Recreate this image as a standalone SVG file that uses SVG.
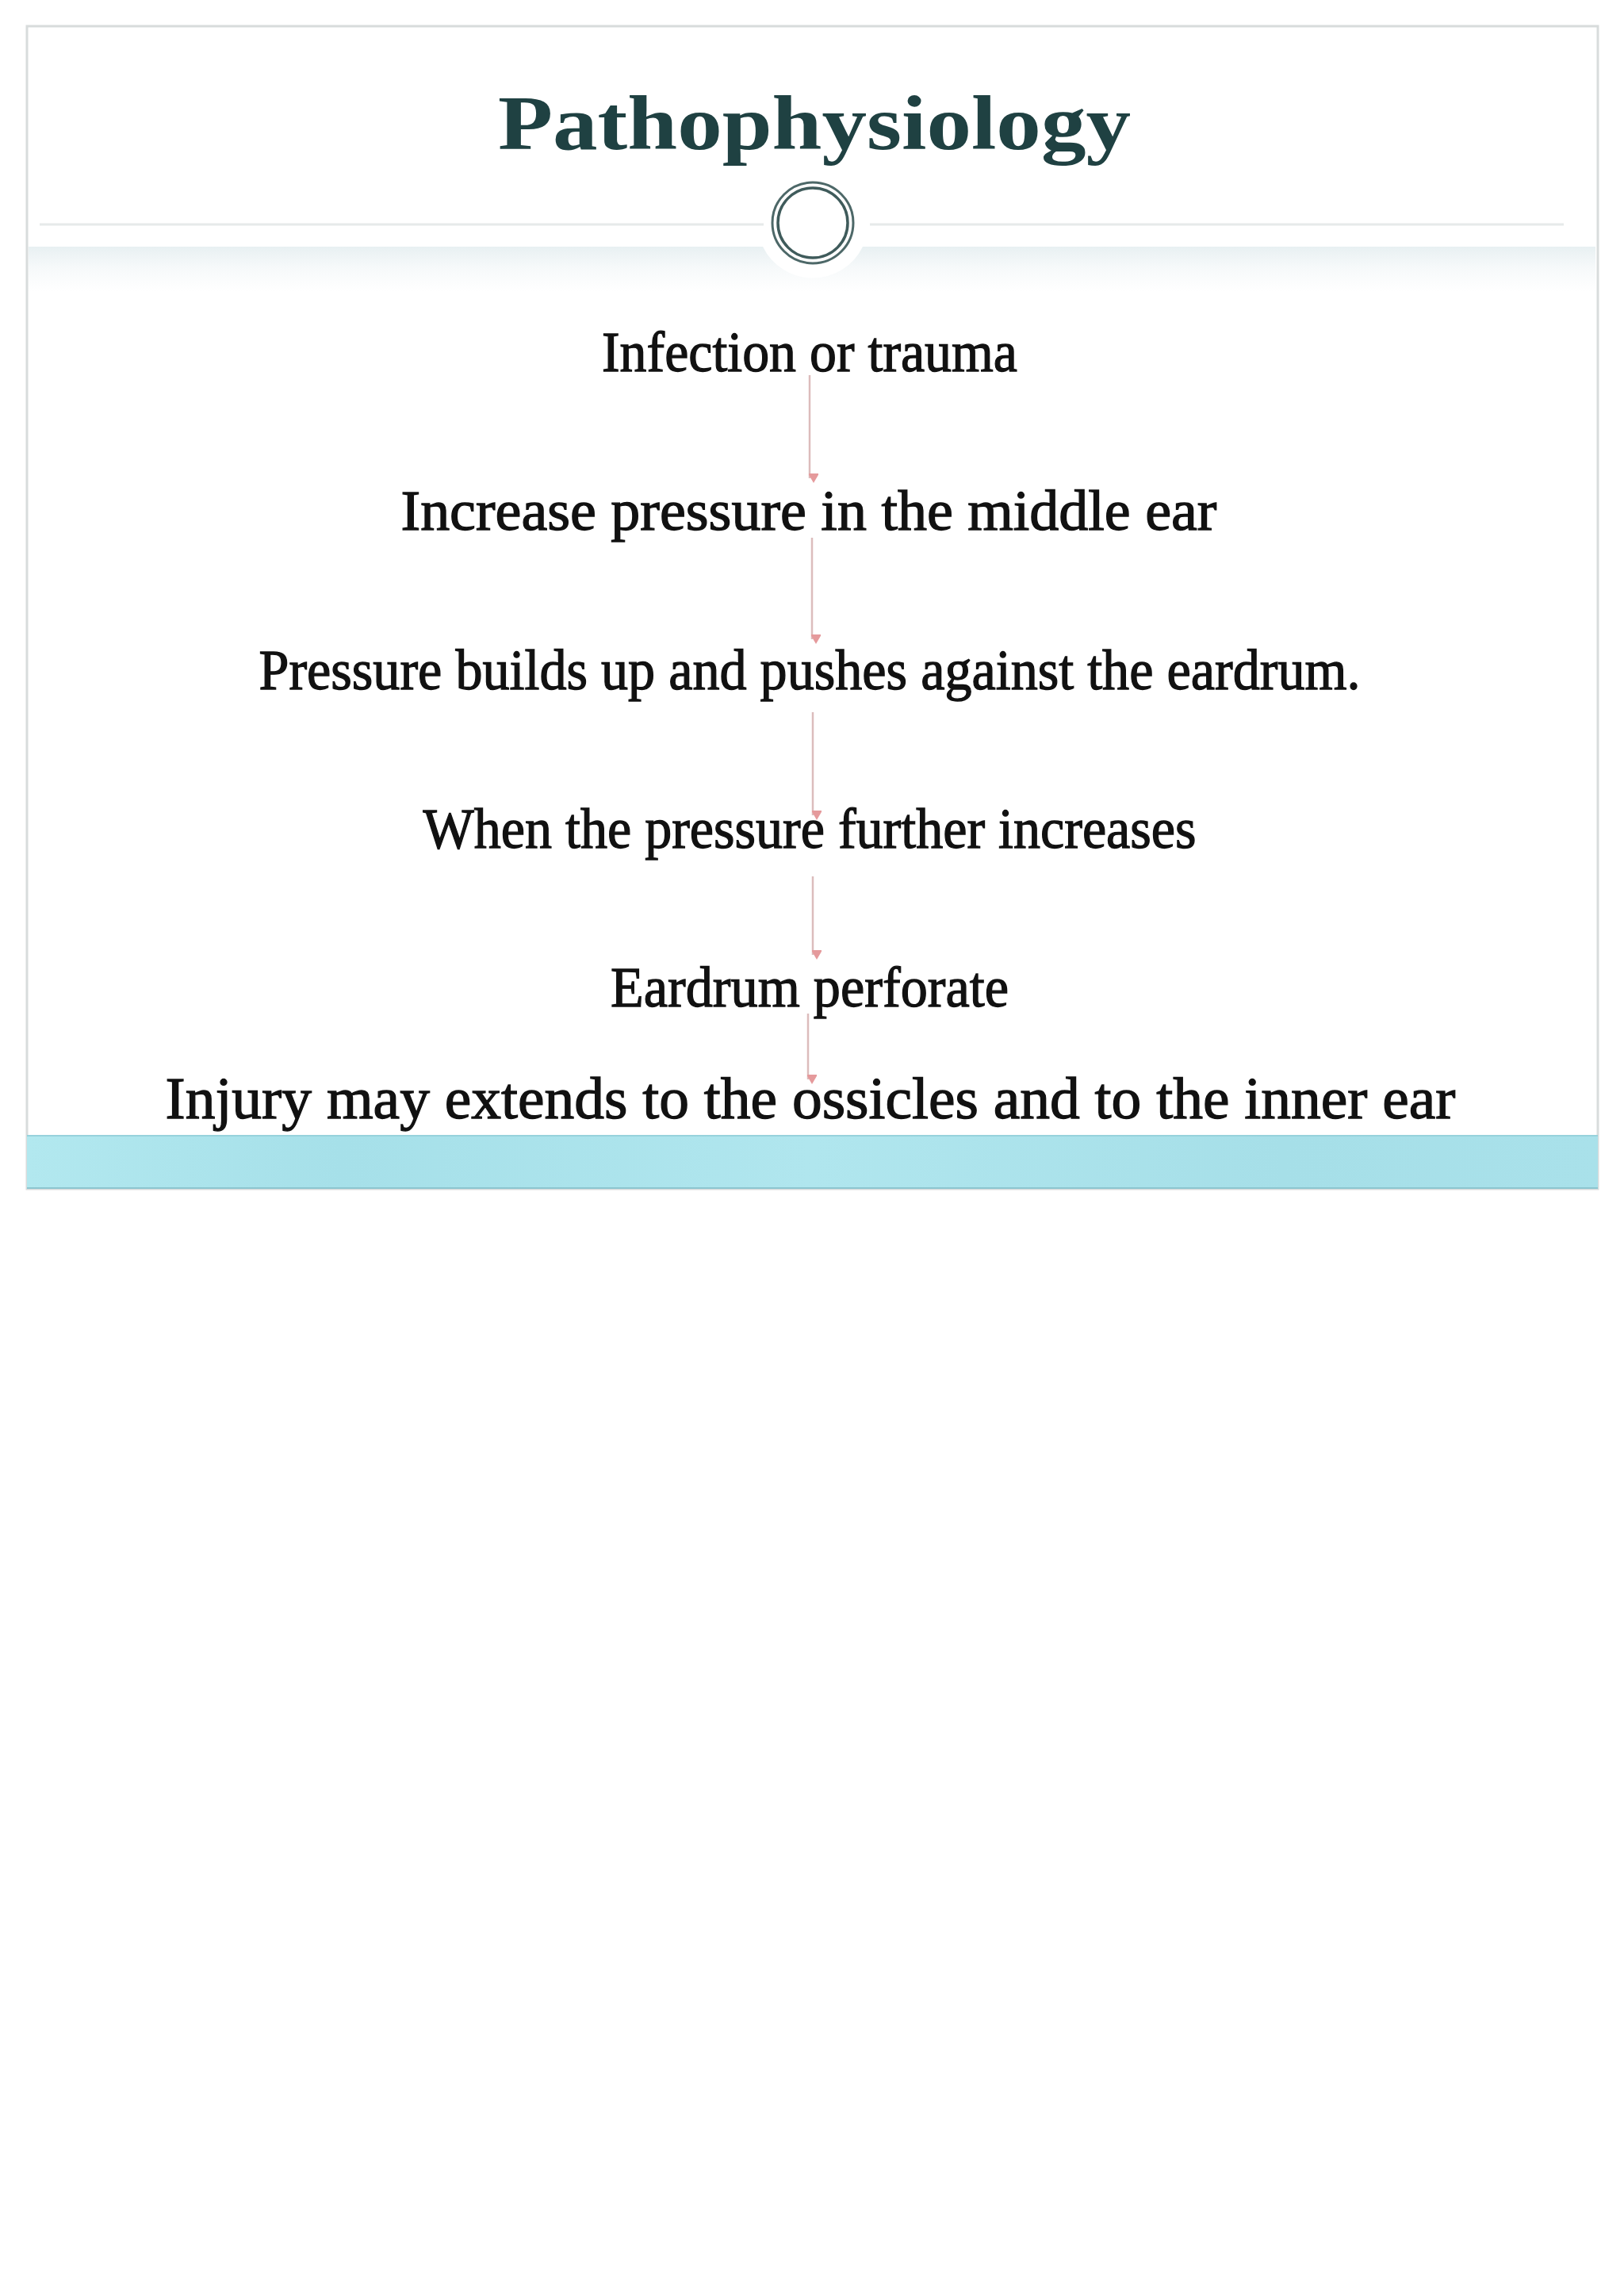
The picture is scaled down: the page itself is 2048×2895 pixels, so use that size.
<svg xmlns="http://www.w3.org/2000/svg" width="2048" height="2895" viewBox="0 0 2048 2895">
  <style>
    .title { font-family: "Liberation Serif", "Times New Roman", serif; font-weight: bold; font-size: 98px; fill: #1f4142; }
    .step { font-family: "Liberation Serif", "Times New Roman", serif; font-size: 72px; fill: #111111; stroke: #111111; stroke-width: 1.3; }
    .last { font-family: "Liberation Serif", "Times New Roman", serif; font-size: 75px; fill: #111111; stroke: #111111; stroke-width: 1.3; }
    .conn { stroke: #dcbcbc; stroke-width: 2.5; fill: none; }
  </style>
  <defs>
    <linearGradient id="panelShade" x1="0" y1="0" x2="0" y2="1">
      <stop offset="0" stop-color="#e8f0f2"/>
      <stop offset="0.45" stop-color="#f6f9fa"/>
      <stop offset="1" stop-color="#ffffff"/>
    </linearGradient>
    <linearGradient id="band" x1="0" y1="0" x2="1" y2="0">
      <stop offset="0" stop-color="#b2e8ef"/>
      <stop offset="0.2" stop-color="#a6e0e9"/>
      <stop offset="0.5" stop-color="#b0e6ee"/>
      <stop offset="0.8" stop-color="#a6dfe8"/>
      <stop offset="1" stop-color="#a9e1ea"/>
    </linearGradient>
    <marker id="arrow" markerWidth="14" markerHeight="12" refX="7" refY="11" orient="auto-start-reverse" markerUnits="userSpaceOnUse" viewBox="0 0 14 12">
      <path d="M0,0 L14,0 L7,12 Z" fill="#e59a9c" transform="rotate(-90 7 6)"/>
    </marker>
  </defs>

  <rect x="0" y="0" width="2048" height="2895" fill="#ffffff"/>

  <g id="slide-frame">
    <rect x="34" y="33" width="1981" height="1466" fill="#ffffff" stroke="#d8dcdc" stroke-width="3"/>
    <line x1="50" y1="283" x2="963" y2="283" stroke="#e6eaea" stroke-width="3"/>
    <line x1="1097" y1="283" x2="1972" y2="283" stroke="#e6eaea" stroke-width="3"/>
    <path d="M36,311 H962 A70 70 0 0 0 1088,311 H2012 V368 H36 Z" fill="url(#panelShade)"/>
    <rect x="34" y="1431" width="1981" height="68" fill="url(#band)"/>
    <line x1="34" y1="1432" x2="2015" y2="1432" stroke="#97d2dc" stroke-width="2"/>
    <line x1="34" y1="1498" x2="2015" y2="1498" stroke="#8cc6d0" stroke-width="2"/>
  </g>

  <g id="title">
    <text class="title" x="1027" y="188" text-anchor="middle" textLength="798" lengthAdjust="spacingAndGlyphs">Pathophysiology</text>
  </g>

  <g id="title-ornament">
    <circle cx="1025" cy="281" r="51" fill="#ffffff" stroke="#4d6868" stroke-width="3"/>
    <circle cx="1025" cy="281" r="44" fill="none" stroke="#3f5b5b" stroke-width="3.5"/>
  </g>

  <g id="node-1">
    <text class="step" x="1021" y="468" text-anchor="middle" textLength="524" lengthAdjust="spacingAndGlyphs">Infection or trauma</text>
  </g>
  <g id="node-2">
    <text class="step" x="1020" y="668" text-anchor="middle" textLength="1029" lengthAdjust="spacingAndGlyphs">Increase pressure in the middle ear</text>
  </g>
  <g id="node-3">
    <text class="step" x="1021" y="869" text-anchor="middle" textLength="1389" lengthAdjust="spacingAndGlyphs">Pressure builds up and pushes against the eardrum.</text>
  </g>
  <g id="node-4">
    <text class="step" x="1021" y="1069" text-anchor="middle" textLength="975" lengthAdjust="spacingAndGlyphs">When the pressure further increases</text>
  </g>
  <g id="node-5">
    <text class="step" x="1021" y="1269" text-anchor="middle" textLength="502" lengthAdjust="spacingAndGlyphs">Eardrum perforate</text>
  </g>
  <g id="node-6">
    <text class="last" x="1022" y="1410" text-anchor="middle" textLength="1627" lengthAdjust="spacingAndGlyphs">Injury may extends to the ossicles and to the inner ear</text>
  </g>

  <g id="connectors">
    <line class="conn" x1="1021" y1="473" x2="1021" y2="603" marker-end="url(#arrow)"/>
    <line class="conn" x1="1024" y1="678" x2="1024" y2="806" marker-end="url(#arrow)"/>
    <line class="conn" x1="1025" y1="898" x2="1025" y2="1028" marker-end="url(#arrow)"/>
    <line class="conn" x1="1025" y1="1105" x2="1025" y2="1204" marker-end="url(#arrow)"/>
    <line class="conn" x1="1019" y1="1278" x2="1019" y2="1361" marker-end="url(#arrow)"/>
  </g>
</svg>
